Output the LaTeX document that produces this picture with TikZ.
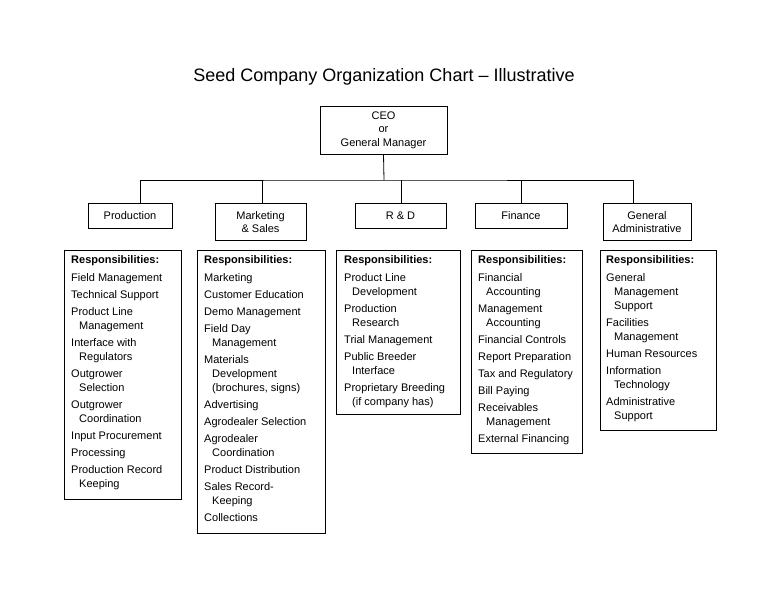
\documentclass[tikz,border=0pt]{standalone}
\usepackage{fontspec}
\setmainfont{Liberation Sans}
\usetikzlibrary{positioning}
\tikzset{
  box/.style={draw,line width=0.8pt,align=center,font=\fontsize{11}{13.5}\selectfont,inner sep=0pt},
  rbox/.style={draw,line width=0.8pt,inner sep=0pt,anchor=north west},
  rtext/.style={anchor=north west,align=left,inner sep=0pt,font=\fontsize{11}{14}\selectfont},
  link/.style={line width=0.8pt}
}
\newcommand{\hd}{\textbf{Responsibilities:}\\[4pt]}
\newcommand{\ind}{\hspace*{8pt}}
\begin{document}
\begin{tikzpicture}[x=1pt,y=-1pt]
	\useasboundingbox (0,0) rectangle (768,594);
	\node (title) at (384,77) {\fontsize{18}{20}\selectfont Seed Company Organization Chart -- Illustrative};
	% top level
	\node[box,minimum width=127pt,minimum height=48pt] (ceo) at (383.5,130) {CEO\\or\\General Manager};
	% departments
	\node[box,minimum width=84pt,minimum height=25pt,anchor=north] (prod) at (130,203) {Production};
	\node[box,minimum width=91pt,minimum height=37pt,anchor=north] (mkt) at (260.5,203) {Marketing\\\& Sales};
	\node[box,minimum width=91pt,minimum height=25pt,anchor=north] (rd) at (400.5,203) {R \& D};
	\node[box,minimum width=92pt,minimum height=25pt,anchor=north] (fin) at (521,203) {Finance};
	\node[box,minimum width=88pt,minimum height=37pt,anchor=north] (ga) at (647,203) {General\\Administrative};
	\coordinate (bus) at (384,180);
	\draw[link] (ceo.south) -- (bus);
	\draw[link] (prod.north -| 140,0) |- (bus) -| (ga.north -| 633,0);
	\draw[link] (mkt.north -| 262,0) -- (262,180);
	\draw[link] (rd.north -| 401,0) -- (401,180);
	\draw[link] (fin.north -| 521,0) -- (521,180);
	% responsibility boxes
	\node[rbox,minimum width=117pt,minimum height=249pt] (rprod) at (64,250) {};
	\node[rbox,minimum width=128pt,minimum height=283pt] (rmkt) at (197,250) {};
	\node[rbox,minimum width=124pt,minimum height=164pt] (rrd) at (336,250) {};
	\node[rbox,minimum width=111pt,minimum height=203pt] (rfin) at (471,250) {};
	\node[rbox,minimum width=116pt,minimum height=180pt] (rga) at (600,250) {};
	\node[rtext] (tprod) at ([xshift=7pt,yshift=-5pt]rprod.north west) {\hd
		Field Management\\[3pt]
		Technical Support\\[3pt]
		Product Line\\\ind Management\\[3pt]
		Interface with\\\ind Regulators\\[3pt]
		Outgrower\\\ind Selection\\[3pt]
		Outgrower\\\ind Coordination\\[3pt]
		Input Procurement\\[3pt]
		Processing\\[3pt]
		Production Record\\\ind Keeping};
	\node[rtext] (tmkt) at ([xshift=7pt,yshift=-5pt]rmkt.north west) {\hd
		Marketing\\[3pt]
		Customer Education\\[3pt]
		Demo Management\\[3pt]
		Field Day\\\ind Management\\[3pt]
		Materials\\\ind Development\\\ind (brochures, signs)\\[3pt]
		Advertising\\[3pt]
		Agrodealer Selection\\[3pt]
		Agrodealer\\\ind Coordination\\[3pt]
		Product Distribution\\[3pt]
		Sales Record-\\\ind Keeping\\[3pt]
		Collections};
	\node[rtext] (trd) at ([xshift=8pt,yshift=-5pt]rrd.north west) {\hd
		Product Line\\\ind Development\\[3pt]
		Production\\\ind Research\\[3pt]
		Trial Management\\[3pt]
		Public Breeder\\\ind Interface\\[3pt]
		Proprietary Breeding\\\ind (if company has)};
	\node[rtext] (tfin) at ([xshift=7pt,yshift=-5pt]rfin.north west) {\hd
		Financial\\\ind Accounting\\[3pt]
		Management\\\ind Accounting\\[3pt]
		Financial Controls\\[3pt]
		Report Preparation\\[3pt]
		Tax and Regulatory\\[3pt]
		Bill Paying\\[3pt]
		Receivables\\\ind Management\\[3pt]
		External Financing};
	\node[rtext] (tga) at ([xshift=6pt,yshift=-5pt]rga.north west) {\hd
		General\\\ind Management\\\ind Support\\[3pt]
		Facilities\\\ind Management\\[3pt]
		Human Resources\\[3pt]
		Information\\\ind Technology\\[3pt]
		Administrative\\\ind Support};
\end{tikzpicture}
\end{document}
